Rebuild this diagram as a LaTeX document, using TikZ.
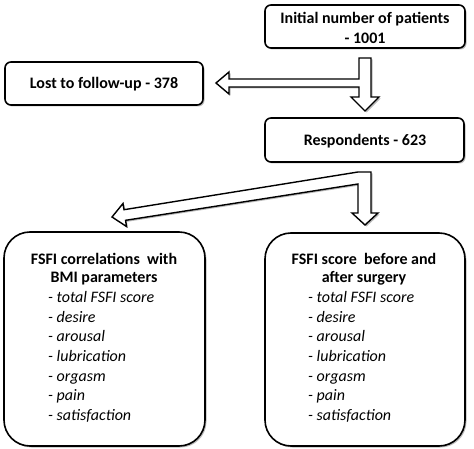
\documentclass[tikz,border=0pt]{standalone}
\usepackage{fontspec}
\setmainfont{Carlito}
\usetikzlibrary{shadows}
\begin{document}
\begin{tikzpicture}[x=1pt,y=-1pt,
  shd/.style={drop shadow={shadow xshift=1.5pt,shadow yshift=-1.5pt,fill=black!45,opacity=0.6}},
  smallbox/.style={draw=black,line width=1.6pt,rounded corners=6pt,fill=white,shd},
  bigbox/.style={draw=black,line width=1.6pt,rounded corners=26pt,fill=white,shd},
  blockarrow/.style={draw=black,line width=1.4pt,fill=white,line join=miter,shd},
  ttl/.style={font=\fontsize{16}{20}\selectfont\bfseries,align=center,inner sep=0pt},
  btl/.style={font=\fontsize{16}{18.5}\selectfont\bfseries,align=center,inner sep=0pt},
  lst/.style={font=\fontsize{16}{19.7}\selectfont\itshape,align=left,inner sep=0pt,anchor=base west}]
\useasboundingbox (0,0) rectangle (474,449);
% boxes
\draw[smallbox] (265,5) rectangle (465,48);
\draw[smallbox] (5,62) rectangle (203,105);
\draw[smallbox] (265,118) rectangle (464,162);
\draw[bigbox] (4,232) rectangle (205,446);
\draw[bigbox] (265,233) rectangle (465,446);
% block arrows
\draw[blockarrow] (359,58) -- (371,58) -- (371,97) -- (379,97) -- (365,111) -- (351,97) -- (359,97)
  -- (359,87) -- (229,87) -- (229,94) -- (216,83) -- (229,72) -- (229,79) -- (359,79) -- cycle;
\draw[blockarrow] (358,172) -- (371,172) -- (371,213) -- (378,213) -- (365,225) -- (352,213) -- (358,213)
  -- (358,184) -- (125.6,220.3) -- (126.5,226.5) -- (112,217) -- (123,203.5) -- (124,209.7) -- cycle;
% texts
\node[ttl] (init) at (365,28) {Initial number of patients\\- 1001};
\node[ttl] (lost) at (104,84) {Lost to follow-up - 378};
\node[ttl] (resp) at (365,141) {Respondents - 623};
\node[btl] (lt) at (104,269) {FSFI correlations\ \ with\\BMI parameters};
\node[btl] (rt) at (364,269) {FSFI score\ \ before and\\after surgery};
\node[lst] (ll) at (48,420.5) {- total FSFI score\\- desire\\- arousal\\- lubrication\\- orgasm\\- pain\\- satisfaction};
\node[lst] (rl) at (308,420.5) {- total FSFI score\\- desire\\- arousal\\- lubrication\\- orgasm\\- pain\\- satisfaction};
\end{tikzpicture}
\end{document}
